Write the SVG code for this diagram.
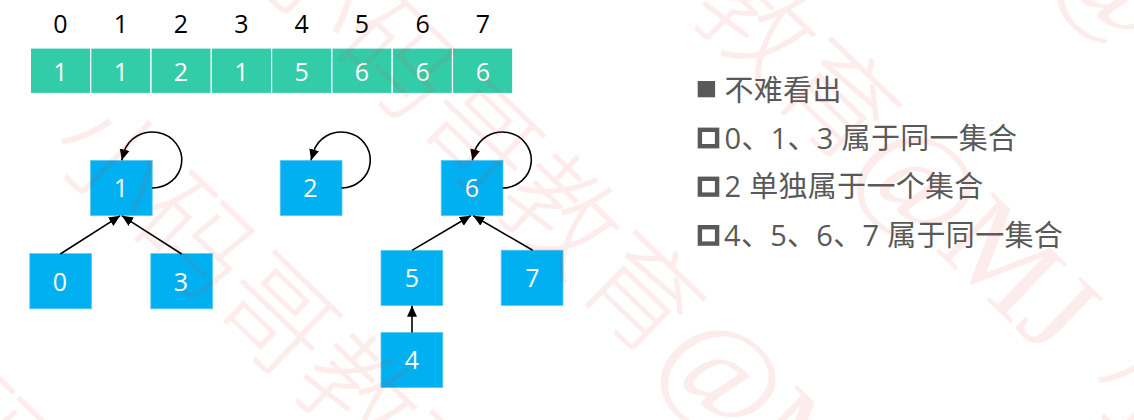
<svg xmlns="http://www.w3.org/2000/svg" width="1134" height="420" viewBox="0 0 1134 420">
<style>
text{font-family:"Open Sans","Noto Sans CJK SC",sans-serif}
.idx{font-size:25px;fill:#000;text-anchor:middle}
.cell rect{fill:#33cca8;stroke:#fff;stroke-width:1.2}
.cell text,.node text{font-size:25px;fill:#fff;text-anchor:middle}
.node rect{fill:#00b0f0;stroke:#5cc9f2;stroke-width:.8}
.con{fill:none;stroke:#000;stroke-width:1.6;marker-end:url(#ah)}
.li{font-size:29px;letter-spacing:.3px;fill:#595959}
.box{fill:none;stroke:#595959;stroke-width:4.4}
.wm{font-family:"Noto Sans CJK SC","Liberation Serif",serif;font-size:113px;font-weight:200;fill:#eb3939;opacity:.09}
.wm tspan{font-family:"Liberation Serif",serif;font-weight:400;font-size:125px}
</style>
<defs>
<marker id="ah" markerUnits="userSpaceOnUse" markerWidth="12" markerHeight="11" refX="11" refY="5.5" orient="auto"><path d="M0 .5L11 5.5L0 10.5z" fill="#000"/></marker>
</defs>
<rect width="1134" height="420" fill="#fff"/>
<g id="index-row">
<text class="idx" x="60.5" y="33">0</text><text class="idx" x="120.8" y="33">1</text><text class="idx" x="181" y="33">2</text><text class="idx" x="241.4" y="33">3</text><text class="idx" x="301.7" y="33">4</text><text class="idx" x="362" y="33">5</text><text class="idx" x="422.6" y="33">6</text><text class="idx" x="483" y="33">7</text>
</g>
<g id="array" class="cell">
<rect x="30.4" y="48" width="60.3" height="45.5"/><text x="60.5" y="81">1</text>
<rect x="90.7" y="48" width="60.3" height="45.5"/><text x="120.8" y="81">1</text>
<rect x="151" y="48" width="60.3" height="45.5"/><text x="181" y="81">2</text>
<rect x="211.3" y="48" width="60.3" height="45.5"/><text x="241.4" y="81">1</text>
<rect x="271.6" y="48" width="60.3" height="45.5"/><text x="301.7" y="81">5</text>
<rect x="331.9" y="48" width="60.3" height="45.5"/><text x="362" y="81">6</text>
<rect x="392.2" y="48" width="60.3" height="45.5"/><text x="422.6" y="81">6</text>
<rect x="452.5" y="48" width="60.3" height="45.5"/><text x="483" y="81">6</text>
</g>
<g id="node-1" class="node"><rect x="90.4" y="160.4" width="61.8" height="55.2"/><text x="121" y="197.3">1</text></g>
<g id="node-2" class="node"><rect x="280.2" y="160.4" width="61.8" height="55.2"/><text x="310.5" y="197.3">2</text></g>
<g id="node-6" class="node"><rect x="441.2" y="160.4" width="61.8" height="55.2"/><text x="472" y="197.3">6</text></g>
<g id="node-0" class="node"><rect x="29.8" y="253.6" width="61.8" height="55.2"/><text x="60" y="290.7">0</text></g>
<g id="node-3" class="node"><rect x="150.8" y="253.6" width="61.8" height="55.2"/><text x="181" y="290.7">3</text></g>
<g id="node-5" class="node"><rect x="381" y="250.4" width="61.8" height="55.2"/><text x="412" y="287.3">5</text></g>
<g id="node-7" class="node"><rect x="501.2" y="250.2" width="61.8" height="55.2"/><text x="532.5" y="287.3">7</text></g>
<g id="node-4" class="node"><rect x="381" y="332.4" width="61.8" height="55.2"/><text x="412" y="369.3">4</text></g>
<g id="connectors">
<path class="con" d="M60.3 254L120 215.8"/>
<path class="con" d="M181.7 254L122 215.8"/>
<path class="con" d="M412 250.4L470.7 215.8"/>
<path class="con" d="M532.7 250.2L473.3 215.8"/>
<path class="con" d="M412 332.4V305.8"/>
<path class="con" d="M152 188A29.5 28 0 1 0 124 152L121.8 160.3"/>
<path class="con" d="M341.5 188A29 28 0 1 0 313.5 152L311 160.3"/>
<path class="con" d="M502.5 188A29 28 0 1 0 474.5 152L472.3 160.3"/>
</g>
<g id="list">
<rect x="697.7" y="81" width="17.4" height="16.3" fill="#595959"/>
<text class="li" x="724.5" y="100.5">不难看出</text>
<rect class="box" x="699.9" y="129.8" width="17.2" height="16.4"/>
<text class="li" x="724.5" y="148.5">0、1、3 属于同一集合</text>
<rect class="box" x="699.9" y="178.8" width="17.2" height="15.8"/>
<text class="li" x="724.5" y="197">2 单独属于一个集合</text>
<rect class="box" x="699.9" y="227.2" width="17.2" height="16.4"/>
<text class="li" x="724" y="245.5">4、5、6、7 属于同一集合</text>
</g>
<g id="watermark" class="wm">
<text transform="translate(-158 345) rotate(44)">小码哥教育<tspan>@MJ</tspan></text>
<text transform="translate(45 149) rotate(44)">小码哥教育<tspan>@MJ</tspan></text>
<text transform="translate(248 -31) rotate(44)">小码哥教育<tspan>@MJ</tspan></text>
<text transform="translate(444 -224) rotate(44)">小码哥教育<tspan>@MJ</tspan></text>
<text transform="translate(644 -419) rotate(44)">小码哥教育<tspan>@MJ</tspan></text>
<text transform="translate(1082 388) rotate(44)">小</text>
</g>
</svg>
